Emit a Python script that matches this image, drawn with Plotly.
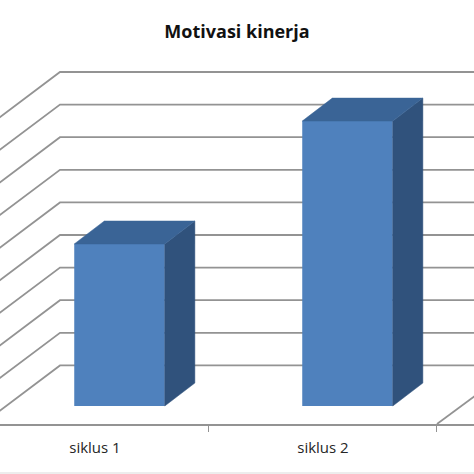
import plotly.graph_objects as go

# data (value axis has no labels, assumed 0-100)
categories = ["siklus 1", "siklus 2"]
values = [49.7, 87.4]
grid_values = [10, 20, 30, 40, 50, 60, 70, 80, 90, 100]
title = "Motivasi kinerja"

FRONT = "#4F81BD"
TOP = "#3A6496"
SIDE = "#30527C"
GRID = "#939393"

x_pos = list(range(len(categories)))
bar_w = 0.397
# fake 3d offsets, in axis units
dx = 0.132
dy = 7.05
wall_x = -0.261
wall_lift = 2.45
left_run = 0.35
left_drop = 18.4
label_shift = 0.1075
floor_end = 1.3925

fig = go.Figure()

# front faces
fig.add_trace(go.Bar(x=x_pos, y=values, width=bar_w, marker=dict(color=FRONT, line=dict(width=0)),
                     showlegend=False, hoverinfo="skip"))

# side and top faces
for x, v in zip(x_pos, values):
    l = x - bar_w / 2
    r = x + bar_w / 2
    fig.add_trace(go.Scatter(x=[r, r + dx, r + dx, r, r], y=[0, dy, v + dy, v, 0], mode="lines", fill="toself",
                             fillcolor=SIDE, line=dict(color=SIDE, width=0.5), showlegend=False, hoverinfo="skip"))
    fig.add_trace(go.Scatter(x=[l, l + dx, r + dx, r, l], y=[v, v + dy, v + dy, v, v], mode="lines", fill="toself",
                             fillcolor=TOP, line=dict(color=TOP, width=0.5), showlegend=False, hoverinfo="skip"))

# gridlines run along the back wall and then down the left wall
for g in grid_values:
    y = g + wall_lift
    path = f"M {wall_x - left_run} {y - left_drop} L {wall_x} {y} L 2 {y}"
    fig.add_shape(type="path", path=path, xref="x", yref="y", layer="below", line=dict(color=GRID, width=1.8))

# floor edge on the right
fig.add_shape(type="line", x0=floor_end, y0=-5.52, x1=floor_end + 0.165, y1=3.05, xref="x", yref="y",
              layer="below", line=dict(color=GRID, width=1.8))

# thin grey strip at the bottom of the image
fig.add_shape(type="rect", x0=0, x1=1, y0=-50 / 424, y1=-48 / 424, xref="paper", yref="paper",
              fillcolor="#EDEDED", line=dict(width=0))

fig.update_layout(
    width=474, height=474,
    margin=dict(l=0, r=0, t=0, b=50),
    paper_bgcolor="white", plot_bgcolor="white",
    showlegend=False,
    font=dict(family="Open Sans", color="#262626"),
    title=dict(text="<b>" + title + "</b>", x=0.5, xanchor="center", y=0.934, yanchor="middle",
               font=dict(family="Open Sans", size=18, color="#111111")),
    xaxis=dict(range=[-119.5 / 228, 354.5 / 228], showgrid=False, zeroline=False, showline=True,
               linecolor=GRID, linewidth=1.8,
               tickvals=[x - label_shift for x in x_pos], ticktext=categories, ticks="", ticklen=0,
               ticklabelstandoff=9,
               tickfont=dict(family="Open Sans", size=15, color="#262626"),
               minor=dict(tick0=floor_end, dtick=1, ticks="outside", ticklen=6, tickwidth=1.4, tickcolor=GRID,
                          showgrid=False)),
    yaxis=dict(range=[-5.52, 124.54], visible=False),
)

# the page keeps a default body margin otherwise
fig.write_html("out.html", config={"displayModeBar": False}, post_script="document.body.style.margin='0';")
